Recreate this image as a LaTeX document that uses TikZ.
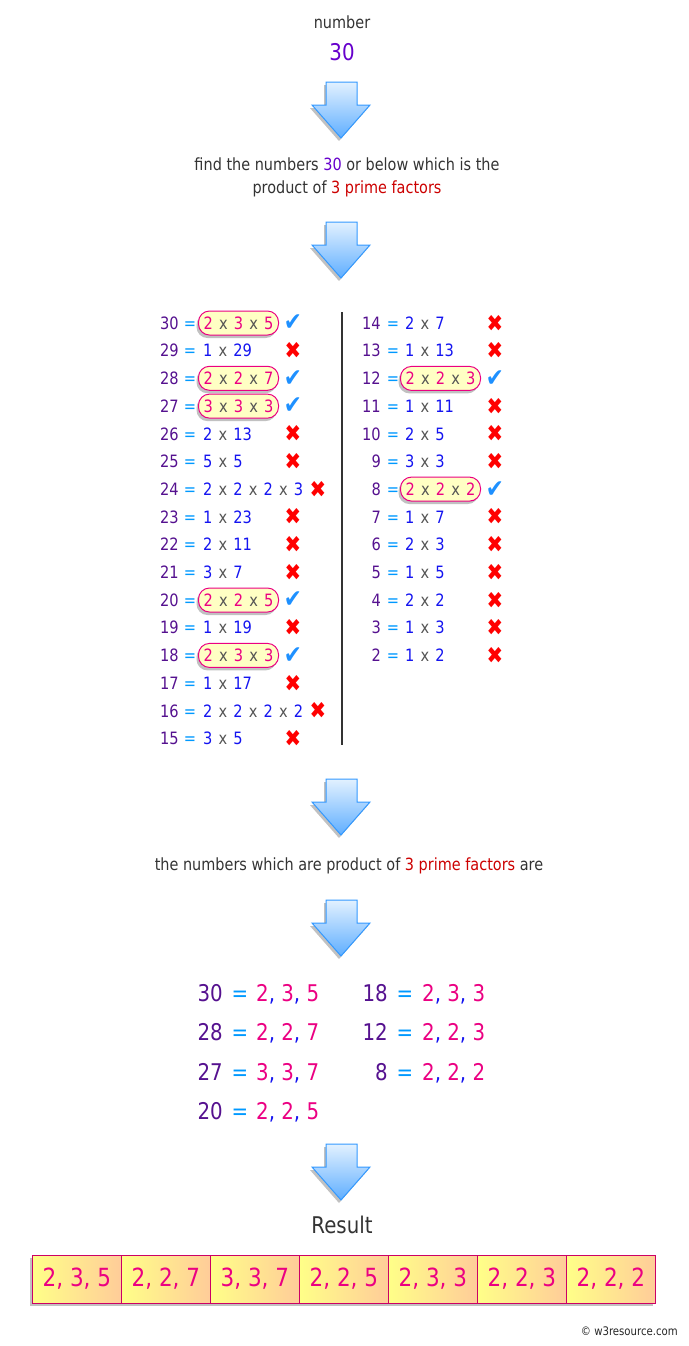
\documentclass[tikz,border=0pt]{standalone}
\usepackage{fontspec}
\setmainfont{DejaVu Sans}[FakeStretch=0.86]
\usetikzlibrary{shadows,positioning}
\definecolor{txtgray}{HTML}{333333}
\definecolor{toppurple}{HTML}{6600CC}
\definecolor{numpurple}{HTML}{55118F}
\definecolor{eqblue}{HTML}{0099FF}
\definecolor{digblue}{HTML}{1414F0}
\definecolor{xgray}{HTML}{555555}
\definecolor{hlpink}{HTML}{EB0082}
\definecolor{hlfill}{HTML}{FFFFC4}
\definecolor{factred}{HTML}{CC0000}
\definecolor{tickblue}{HTML}{1E90FF}
\definecolor{crossred}{HTML}{FF0000}
\definecolor{arrowline}{HTML}{3399FF}
\definecolor{arrowtop}{HTML}{E2F1FF}
\definecolor{arrowbot}{HTML}{5FAEFF}
\definecolor{barline}{HTML}{CC0066}
\definecolor{barleft}{HTML}{FFFF88}
\definecolor{barright}{HTML}{FFCC99}
\newcommand\fsz[1]{\fontsize{#1}{#1}\selectfont}
\newcommand\X{\textcolor{xgray}{\hspace{0.36em}x\hspace{0.36em}}}
\newcommand\rv[3]{#1\textcolor{digblue}{,} #2\textcolor{digblue}{,} #3}
\tikzset{
  softshadow/.style={drop shadow={shadow xshift=-2pt,shadow yshift=-3pt,opacity=0.35,fill=black!70}},
  downarrow/.style={draw=arrowline,line width=1pt,top color=arrowtop,bottom color=arrowbot,line join=miter,softshadow},
  label/.style={text=txtgray,font=\fsz{16.8},inner sep=0pt},
  num/.style={anchor=base east,text=numpurple,font=\fsz{17},inner sep=0pt},
  eqs/.style={anchor=base,text=eqblue,font=\fsz{17},inner sep=0pt},
  prod0/.style={anchor=base west,text=digblue,font=\fsz{17},inner sep=0pt},
  prod1/.style={anchor=base west,text=hlpink,font=\fsz{17},draw=hlpink,fill=hlfill,line width=1pt,
    rounded corners=11pt,minimum height=24pt,minimum width=80pt,inner xsep=4pt,inner ysep=0pt,softshadow},
  tickmark/.style={text=tickblue,font=\fsz{25},inner sep=0pt},
  crossmark/.style={text=crossred,font=\fsz{23},inner sep=0pt},
  bignum/.style={anchor=base east,text=numpurple,font=\fsz{23},inner sep=0pt},
  bigeq/.style={anchor=base,text=eqblue,font=\fsz{23},inner sep=0pt},
  bigval/.style={anchor=base west,text=hlpink,font=\fsz{23},inner sep=0pt},
  cell/.style={draw=barline,line width=0.8pt,left color=barleft,right color=barright,text=hlpink,
    font=\fsz{25},minimum width=89pt,minimum height=48pt,anchor=west,inner sep=0pt}
}
\begin{document}
\begin{tikzpicture}[x=1pt,y=-1pt]
\useasboundingbox (0,0) rectangle (688,1346);
% heading
\node[label] (numlabel) at (342,22) {number};
\node[text=toppurple,font=\fsz{23},inner sep=0pt] (numval) at (342,52) {30};
\node[label] (find1) at (347,164) {find the numbers \textcolor{toppurple}{30} or below which is the};
\node[label] (find2) at (347,189) {product of \textcolor{factred}{3 prime factors}};
% arrows
\foreach \t in {82,222,779,900,1144}
  \draw[downarrow] (326,\t) -- (357,\t) -- (357,{\t+23}) -- (370,{\t+23}) -- (341,{\t+56})
    -- (312,{\t+23}) -- (326,{\t+23}) -- cycle;
% left column
\foreach \n/\p/\ok/\mx [count=\i from 0] in {30/{2\X3\X5}/1/293, 29/{1\X29}/0/293,
    28/{2\X2\X7}/1/293, 27/{3\X3\X3}/1/293, 26/{2\X13}/0/293, 25/{5\X5}/0/293,
    24/{2\X2\X2\X3}/0/318, 23/{1\X23}/0/293, 22/{2\X11}/0/293, 21/{3\X7}/0/293,
    20/{2\X2\X5}/1/293, 19/{1\X19}/0/293, 18/{2\X3\X3}/1/293, 17/{1\X17}/0/293,
    16/{2\X2\X2\X2}/0/318, 15/{3\X5}/0/293}{
  \pgfmathsetmacro\yy{323+27.7*\i}
  \pgfmathsetmacro\yb{\yy+6.2}
  \node[num] (ln\i) at (179,\yb) {\n};
  \node[eqs] (le\i) at (190,\yb) {=};
  \ifnum\ok=1
    \node[prod1] (lp\i) at (198,\yb) {\p};
    \node[tickmark] (lm\i) at (\mx,\yy) {✔};
  \else
    \node[prod0] (lp\i) at (203,\yb) {\p};
    \node[crossmark] (lm\i) at (\mx,\yy) {✖};
  \fi
}
% right column
\foreach \n/\p/\ok [count=\i from 0] in {14/{2\X7}/0, 13/{1\X13}/0, 12/{2\X2\X3}/1,
    11/{1\X11}/0, 10/{2\X5}/0, 9/{3\X3}/0, 8/{2\X2\X2}/1, 7/{1\X7}/0, 6/{2\X3}/0,
    5/{1\X5}/0, 4/{2\X2}/0, 3/{1\X3}/0, 2/{1\X2}/0}{
  \pgfmathsetmacro\yy{323+27.7*\i}
  \pgfmathsetmacro\yb{\yy+6.2}
  \node[num] (rn\i) at (381,\yb) {\n};
  \node[eqs] (re\i) at (393,\yb) {=};
  \ifnum\ok=1
    \node[prod1] (rp\i) at (400,\yb) {\p};
    \node[tickmark] (rm\i) at (495,\yy) {✔};
  \else
    \node[prod0] (rp\i) at (405,\yb) {\p};
    \node[crossmark] (rm\i) at (495,\yy) {✖};
  \fi
}
\coordinate (divtop) at (342,312);
\coordinate (divbot) at (342,745);
\draw[txtgray,line width=1.6pt] (divtop) -- (divbot);
% summary
\node[label] (found) at (349,866) {the numbers which are product of \textcolor{factred}{3 prime factors} are};
\foreach \n/\a/\b/\c [count=\i from 0] in {30/2/3/5, 28/2/2/7, 27/3/3/7, 20/2/2/5}{
  \pgfmathsetmacro\yb{993+39.3*\i+8.4}
  \node[bignum] (sn\i) at (223,\yb) {\n};
  \node[bigeq] (se\i) at (240,\yb) {=};
  \node[bigval] (sv\i) at (256,\yb) {\rv{\a}{\b}{\c}};
}
\foreach \n/\a/\b/\c [count=\i from 0] in {18/2/3/3, 12/2/2/3, 8/2/2/2}{
  \pgfmathsetmacro\yb{993+39.3*\i+8.4}
  \node[bignum] (tn\i) at (388,\yb) {\n};
  \node[bigeq] (te\i) at (405,\yb) {=};
  \node[bigval] (tv\i) at (422,\yb) {\rv{\a}{\b}{\c}};
}
% result
\node[text=txtgray,font=\fsz{23},inner sep=0pt] (result) at (342,1225) {Result};
\fill[softshadow,fill=white] (32,1255) rectangle (655,1303);
\foreach \v [count=\i from 0] in {{2, 3, 5},{2, 2, 7},{3, 3, 7},{2, 2, 5},{2, 3, 3},{2, 2, 3},{2, 2, 2}}
  \node[cell] (c\i) at ({32+89*\i},1279) {\v};
\node[anchor=east,text=black!85,font=\fsz{11.8},inner sep=0pt] (credit) at (678,1331) {© w3resource.com};
\end{tikzpicture}
\end{document}
